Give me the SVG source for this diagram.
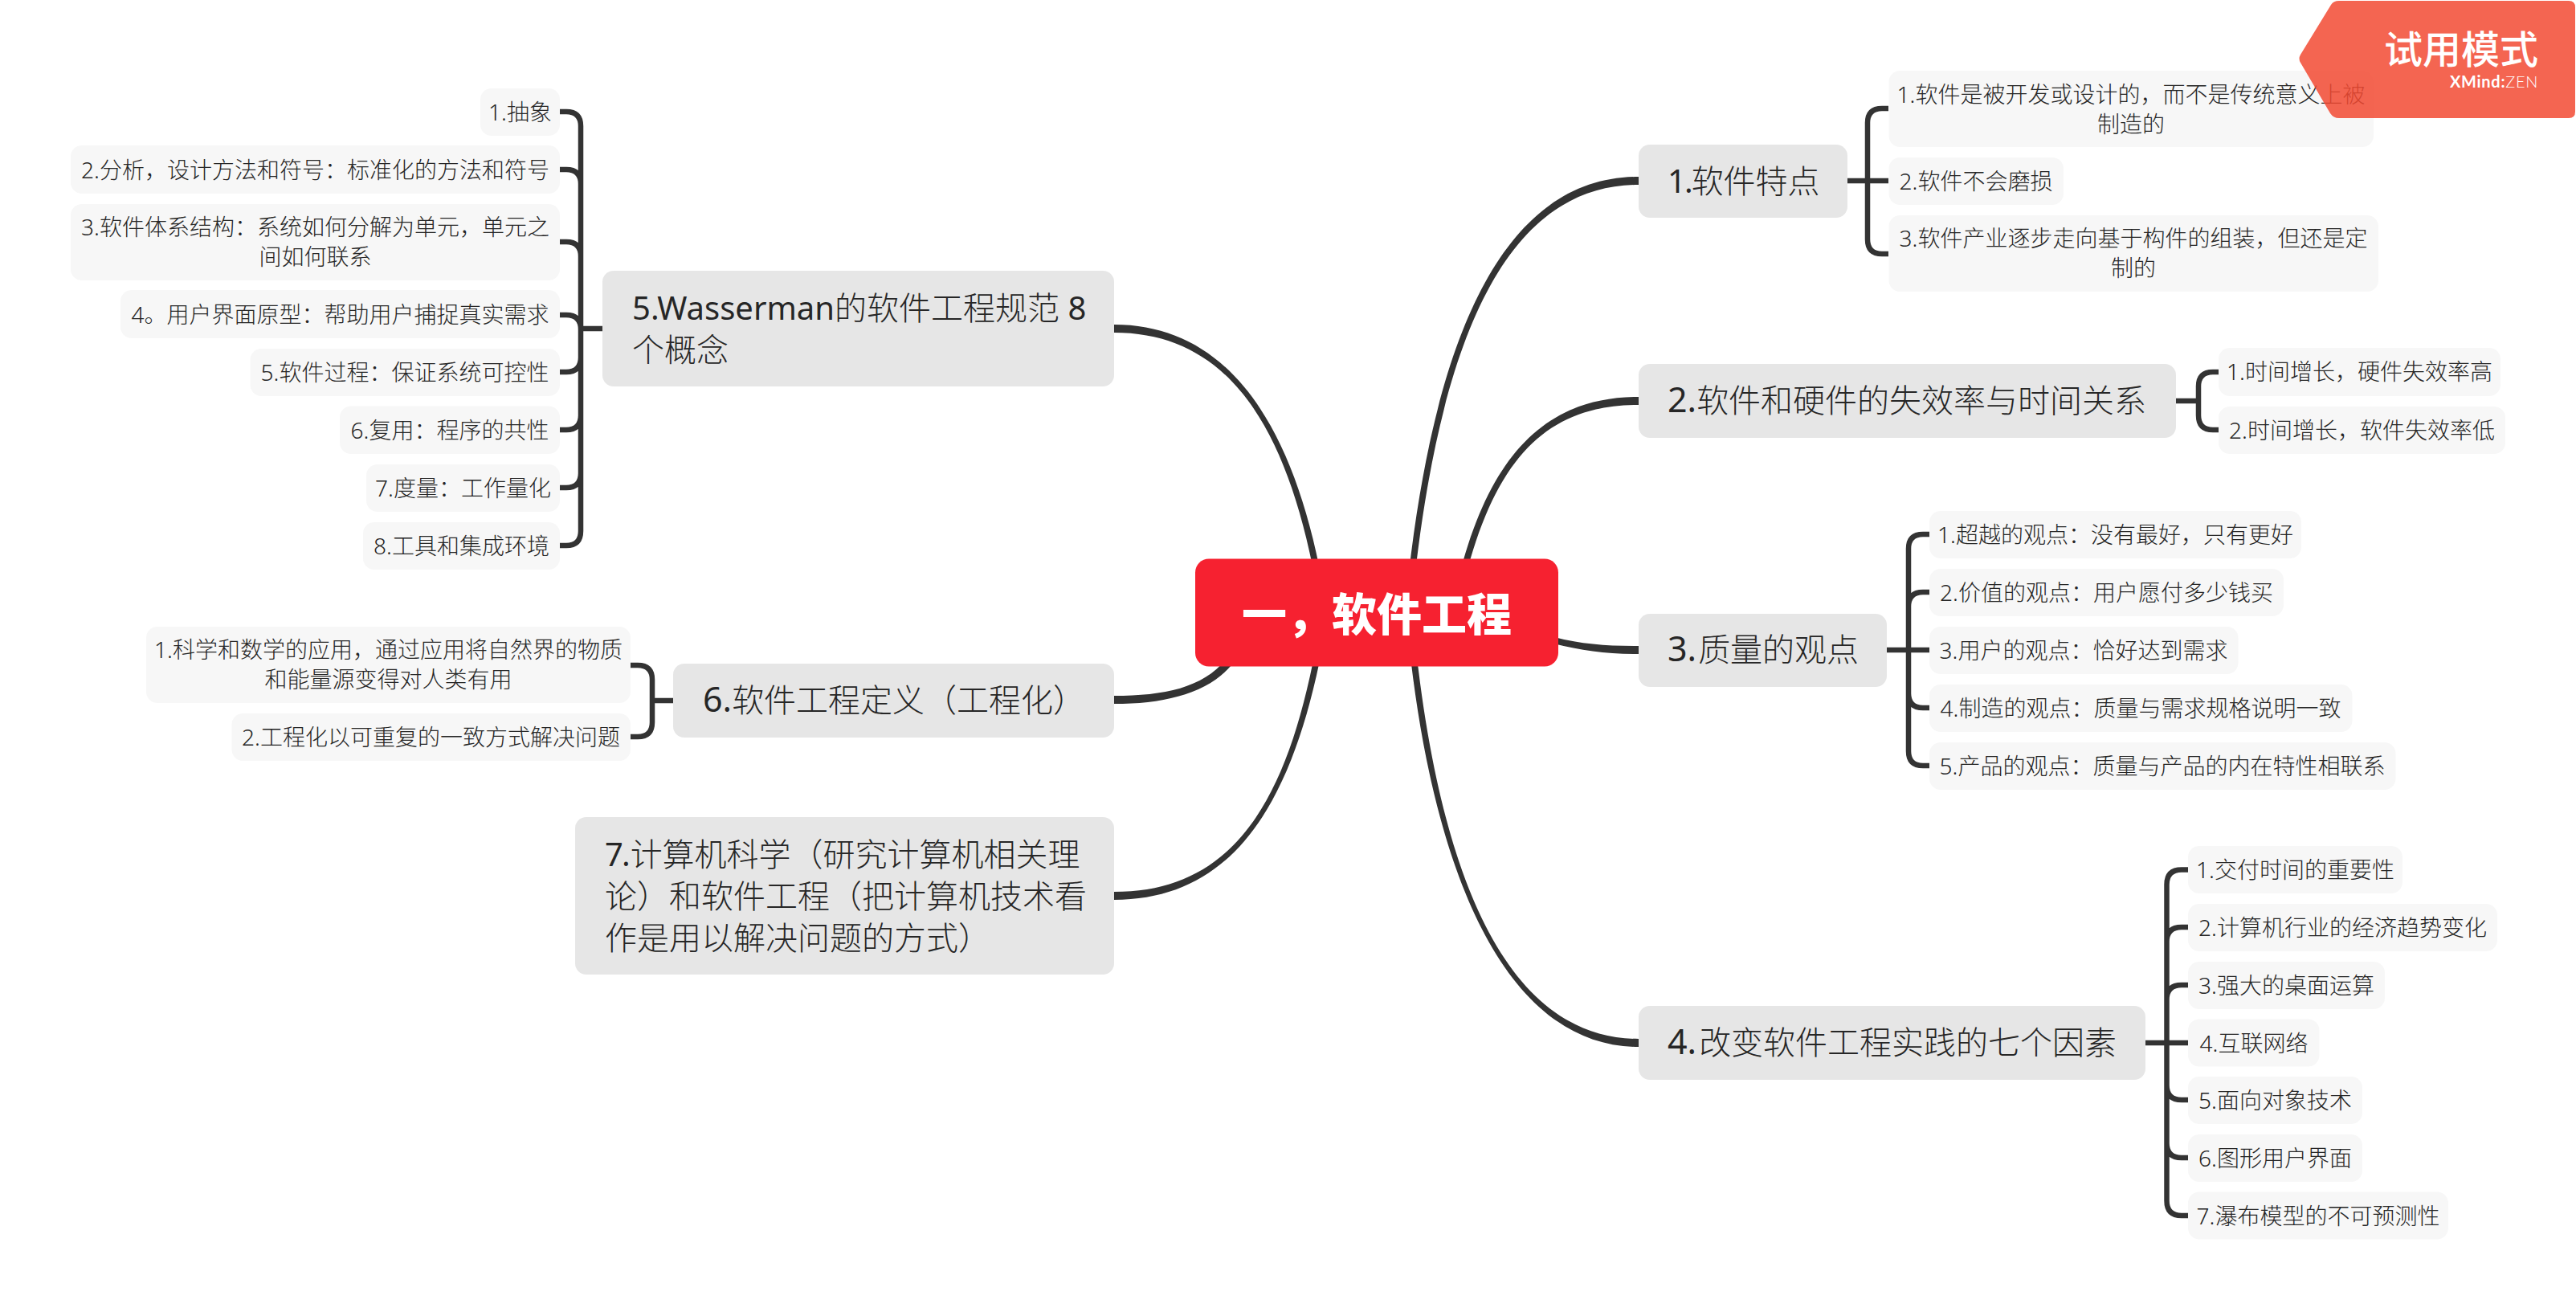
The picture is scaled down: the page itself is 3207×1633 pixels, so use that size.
<svg xmlns="http://www.w3.org/2000/svg" width="3207" height="1633" viewBox="0 0 3207 1633">
<style>
text{font-family:"Noto Sans","Noto Sans CJK SC",sans-serif;fill:#262626;font-weight:300}
.s rect{fill:#f7f7f7}
.s text{font-size:28px;text-anchor:middle}
.t rect{fill:#e6e6e6}
.t text{font-size:40px}
.n{font-weight:400;font-size:43px}
.l{font-weight:400}
.b{fill:none;stroke:#333;stroke-width:6.500;stroke-linecap:butt}
.m{fill:#333}
</style>
<rect width="3207" height="1633" fill="#fff"/>
<g id="connectors">
<path class="m" d="M2040 220C1880 220 1786 399 1751 740L1759 740C1794 401 1884 230 2040 230Z"/>
<path class="m" d="M2040 494C1930 494 1856 559 1816 720L1824 721C1864 561 1933 504 2040 504Z"/>
<path class="m" d="M2040 804C2000 804 1970 802 1935 793L1934 801C1970 810 2000 814 2040 814Z"/>
<path class="m" d="M2040 1293C1880 1293 1794 1100 1762 800L1754 800C1786 1100 1880 1303 2040 1303Z"/>
<path class="m" d="M1387 404C1530 404 1613 530 1649 740L1641 741C1605 532 1530 414 1387 414Z"/>
<path class="m" d="M1387 866C1450 866 1497 856 1526 821L1533 828C1503 863 1450 876 1387 876Z"/>
<path class="m" d="M1387 1110C1540 1110 1606 990 1641 790L1649 791C1613 992 1540 1120 1387 1120Z"/>
<path class="b" d="M2351 135H2343Q2325 135 2325 153V298Q2325 316 2343 316H2351M2300 225H2351"/>
<path class="b" d="M2762 463H2755Q2737 463 2737 481V517Q2737 535 2755 535H2762M2709 499H2737"/>
<path class="b" d="M2402 665H2394Q2376 665 2376 683V935Q2376 953 2394 953H2402M2402 737H2394Q2376 737 2376 755M2402 881H2394Q2376 881 2376 863M2349 809H2402"/>
<path class="b" d="M2724 1082.500H2716Q2697.500 1082.500 2697.500 1101V1494.500Q2697.500 1513 2716 1513H2724M2724 1154H2716Q2697.500 1154 2697.500 1172M2724 1226H2716Q2697.500 1226 2697.500 1244M2724 1369H2716Q2697.500 1369 2697.500 1351M2724 1441H2716Q2697.500 1441 2697.500 1423M2671 1298H2724"/>
<path class="b" d="M697 139H705Q723 139 723 157V661Q723 679 705 679H697M697 211H705Q723 211 723 229M697 301H705Q723 301 723 319M697 392H705Q723 392 723 410M697 463H705Q723 463 723 445M697 535H705Q723 535 723 517M697 607H705Q723 607 723 589M750 409H723"/>
<path class="b" d="M785 828H794Q812 828 812 846V899Q812 917 794 917H785M838 872H812"/>
</g>
<g id="central"><rect x="1488" y="695.500" width="452" height="134" rx="17" fill="#f62130"/><text x="1714" y="785" style="font-size:56px;font-weight:900;fill:#fff;text-anchor:middle">一，软件工程</text></g>
<g id="t1" class="t"><rect x="2040" y="180" width="260" height="91" rx="14"/><text x="2076" y="240"><tspan class="l">1</tspan><tspan class="l" dx="-2">.</tspan><tspan dx="-2">软件特点</tspan></text></g>
<g id="t2" class="t"><rect x="2040" y="453" width="669" height="92" rx="14"/><text x="2076" y="513"><tspan class="n">2.</tspan>软件和硬件的失效率与时间关系</text></g>
<g id="t3" class="t"><rect x="2040" y="764" width="309" height="91" rx="14"/><text x="2076" y="823"><tspan class="n">3.</tspan><tspan dx="2">质量的观点</tspan></text></g>
<g id="t4" class="t"><rect x="2040" y="1252" width="631" height="92" rx="14"/><text x="2076" y="1312"><tspan class="n">4.</tspan><tspan dx="3">改变软件工程实践的七个因素</tspan></text></g>
<g id="t5" class="t"><rect x="750" y="337" width="637" height="144" rx="14"/><text x="787" y="398"><tspan class="l">5.Wasserman</tspan>的软件工程规范 <tspan class="l">8</tspan></text><text x="787" y="450">个概念</text></g>
<g id="t6" class="t"><rect x="838" y="826" width="549" height="92" rx="14"/><text x="875" y="886"><tspan class="n">6.</tspan>软件工程定义（工程化）</text></g>
<g id="t7" class="t"><rect x="716" y="1017" width="671" height="196" rx="14"/><text x="753" y="1078"><tspan class="l">7</tspan><tspan class="l" dx="-2">.</tspan>计算机科学（研究计算机相关理</text><text x="753" y="1130">论）和软件工程（把计算机技术看</text><text x="753" y="1182">作是用以解决问题的方式）</text></g>
<g id="t1-1" class="s"><rect x="2351.500" y="88" width="603.500" height="95" rx="14"/><text x="2653" y="128">1.软件是被开发或设计的，而不是传统意义上被</text><text x="2653" y="165">制造的</text></g>
<g id="t1-2" class="s"><rect x="2351.500" y="196" width="217.500" height="59" rx="14"/><text x="2460" y="236">2.软件不会磨损</text></g>
<g id="t1-3" class="s"><rect x="2351.500" y="268" width="609.500" height="95" rx="14"/><text x="2656" y="307">3.软件产业逐步走向基于构件的组装，但还是定</text><text x="2656" y="344">制的</text></g>
<g id="t2-1" class="s"><rect x="2762" y="433" width="351" height="60" rx="14"/><text x="2937.500" y="473">1.时间增长，硬件失效率高</text></g>
<g id="t2-2" class="s"><rect x="2762" y="506" width="357" height="59" rx="14"/><text x="2940.500" y="546">2.时间增长，软件失效率低</text></g>
<g id="t3-1" class="s"><rect x="2402" y="636" width="463" height="59" rx="14"/><text x="2633.500" y="676">1.超越的观点：没有最好，只有更好</text></g>
<g id="t3-2" class="s"><rect x="2402" y="708" width="441" height="59" rx="14"/><text x="2622.500" y="748">2.价值的观点：用户愿付多少钱买</text></g>
<g id="t3-3" class="s"><rect x="2402" y="780" width="384.500" height="59" rx="14"/><text x="2594" y="820">3.用户的观点：恰好达到需求</text></g>
<g id="t3-4" class="s"><rect x="2402" y="852" width="526.500" height="59" rx="14"/><text x="2665" y="892">4.制造的观点：质量与需求规格说明一致</text></g>
<g id="t3-5" class="s"><rect x="2402" y="924" width="580.500" height="59" rx="14"/><text x="2692" y="964">5.产品的观点：质量与产品的内在特性相联系</text></g>
<g id="t4-1" class="s"><rect x="2724" y="1053" width="267" height="59" rx="14"/><text x="2857.500" y="1093">1.交付时间的重要性</text></g>
<g id="t4-2" class="s"><rect x="2724" y="1125" width="385" height="59" rx="14"/><text x="2916.500" y="1165">2.计算机行业的经济趋势变化</text></g>
<g id="t4-3" class="s"><rect x="2724" y="1197" width="245" height="59" rx="14"/><text x="2846.500" y="1237">3.强大的桌面运算</text></g>
<g id="t4-4" class="s"><rect x="2724" y="1268.500" width="163.500" height="59" rx="14"/><text x="2806" y="1309">4.互联网络</text></g>
<g id="t4-5" class="s"><rect x="2724" y="1340" width="217" height="59" rx="14"/><text x="2832.500" y="1380">5.面向对象技术</text></g>
<g id="t4-6" class="s"><rect x="2724" y="1412" width="217" height="59" rx="14"/><text x="2832.500" y="1452">6.图形用户界面</text></g>
<g id="t4-7" class="s"><rect x="2724" y="1483.500" width="324" height="59" rx="14"/><text x="2886" y="1524">7.瀑布模型的不可预测性</text></g>
<g id="t5-1" class="s"><rect x="598" y="110" width="99" height="59" rx="14"/><text x="647.500" y="150">1.抽象</text></g>
<g id="t5-2" class="s"><rect x="88" y="181" width="609" height="60" rx="14"/><text x="392.500" y="222">2.分析，设计方法和符号：标准化的方法和符号</text></g>
<g id="t5-3" class="s"><rect x="88" y="254" width="609" height="95" rx="14"/><text x="392.500" y="293">3.软件体系结构：系统如何分解为单元，单元之</text><text x="392.500" y="330">间如何联系</text></g>
<g id="t5-4" class="s"><rect x="150" y="361" width="547" height="60" rx="14"/><text x="423.500" y="402">4。用户界面原型：帮助用户捕捉真实需求</text></g>
<g id="t5-5" class="s"><rect x="311.500" y="434" width="385.500" height="59" rx="14"/><text x="504" y="474">5.软件过程：保证系统可控性</text></g>
<g id="t5-6" class="s"><rect x="423" y="505.500" width="274" height="59.500" rx="14"/><text x="560" y="546">6.复用：程序的共性</text></g>
<g id="t5-7" class="s"><rect x="456" y="578" width="241" height="59" rx="14"/><text x="576.500" y="618">7.度量：工作量化</text></g>
<g id="t5-8" class="s"><rect x="452" y="650" width="245" height="59" rx="14"/><text x="574.500" y="690">8.工具和集成环境</text></g>
<g id="t6-1" class="s"><rect x="182" y="780" width="603" height="95" rx="14"/><text x="483.500" y="819">1.科学和数学的应用，通过应用将自然界的物质</text><text x="483.500" y="856">和能量源变得对人类有用</text></g>
<g id="t6-2" class="s"><rect x="288.500" y="888" width="496.500" height="59" rx="14"/><text x="536.500" y="928">2.工程化以可重复的一致方式解决问题</text></g>
<g id="trial">
<path d="M2912 1H3198Q3206 1 3206 9V139Q3206 147 3198 147H2912Q2905 147 2901 141L2864 78Q2861 73 2864 68L2902 6Q2905 1 2912 1Z" fill="#f24a33" fill-opacity=".85"/>
<text x="3160" y="79" style="font-size:48px;font-weight:500;fill:#fff;text-anchor:end">试用模式</text>
<text x="3160" y="109" style="font-size:20px;fill:#fff;text-anchor:end;font-family:Lato,sans-serif;letter-spacing:.7px"><tspan font-weight="700">XMind</tspan><tspan font-weight="700">:</tspan><tspan font-weight="300">ZEN</tspan></text>
</g>
</svg>
